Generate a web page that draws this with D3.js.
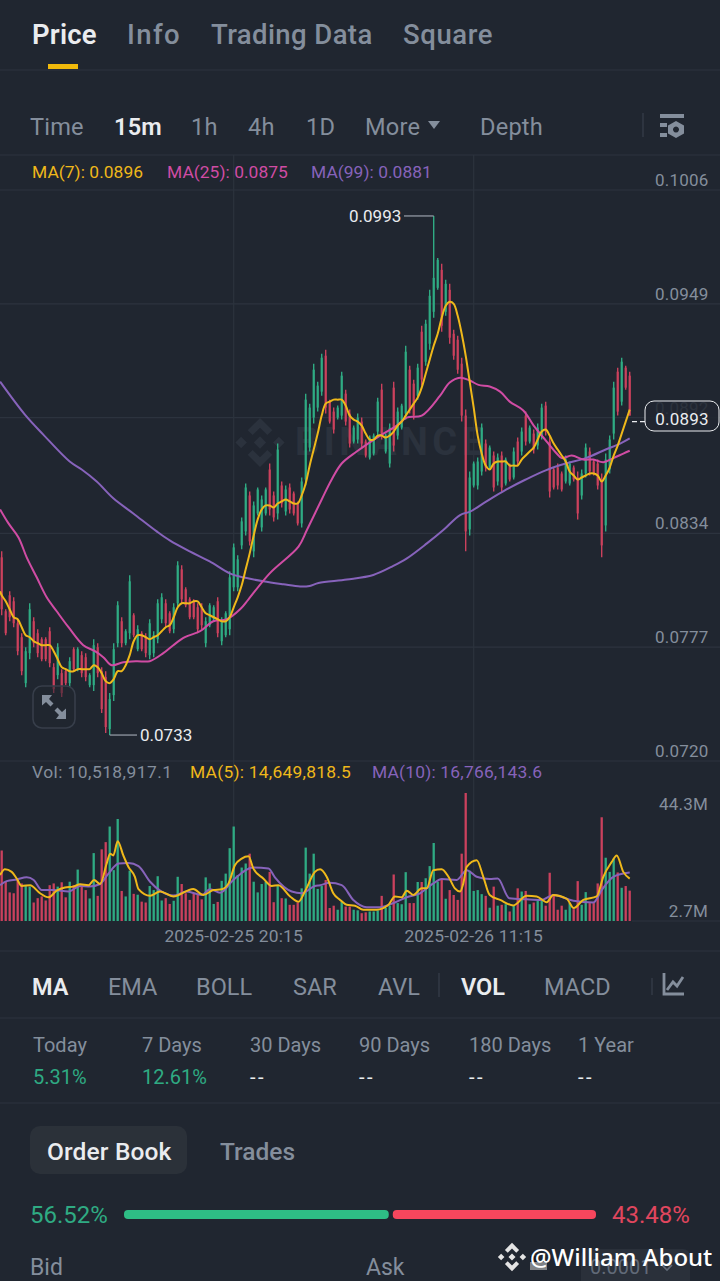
<!DOCTYPE html>
<html><head><meta charset="utf-8">
<script src="https://cdn.jsdelivr.net/npm/d3@7/dist/d3.min.js"></script>
<style>html,body{margin:0;padding:0;background:#202630;overflow:hidden}svg{display:block}text{font-family:Roboto,"Noto Sans",sans-serif}</style>
</head><body><svg id="c" width="720" height="1281"></svg>
<script>
// ---- data: prices in units of 0.0001, volumes in millions ----
const highs=[825,796,805,802,791,784,777,799,792,786,782,782,787,769,779,766,766,772,777,777,775,774,764,781,779,767,765,754,779,800,792,786,813,794,788,785,784,791,785,801,804,801,795,799,820,818,807,802,801,799,799,792,799,798,802,792,795,815,829,823,842,859,855,850,857,853,857,869,855,879,860,858,859,855,850,862,904,899,919,910,924,926,901,897,898,915,906,896,888,894,892,881,883,884,902,909,884,889,910,897,899,928,918,911,919,938,941,956,993,972,969,961,959,936,933,922,896,865,870,872,889,881,878,875,874,875,872,869,877,882,887,895,888,886,889,899,900,883,867,869,865,873,870,868,865,866,879,877,871,871,864,874,883,910,917,922,918,915];
const lows=[793,783,790,787,773,763,757,771,777,772,770,770,767,754,761,752,758,757,765,765,762,760,757,755,762,744,734,733,750,777,777,778,781,782,775,775,772,771,772,779,789,787,784,784,797,799,797,791,791,784,786,777,787,790,782,778,782,783,805,805,826,833,828,822,843,835,843,843,840,841,847,843,844,843,838,837,858,875,889,895,903,894,889,884,891,891,888,877,879,879,877,872,871,873,883,881,874,867,875,881,886,891,894,891,901,908,918,926,942,956,935,943,929,921,914,890,825,833,857,856,863,865,866,855,858,855,858,860,861,868,873,878,879,874,876,881,883,852,856,856,855,859,858,860,841,851,862,863,863,856,822,835,864,881,893,898,906,893];
const opens=[822,795,803,800,789,782,759,774,790,784,781,781,785,767,763,764,765,759,776,766,773,772,758,758,777,765,762,736,753,779,790,779,784,793,776,784,782,773,774,781,791,799,794,786,799,816,806,801,800,797,797,779,788,791,800,780,783,786,807,807,828,835,853,825,844,837,844,866,853,844,858,845,857,854,849,839,861,877,892,897,905,923,900,895,892,893,904,894,880,881,890,880,872,874,885,906,875,869,907,883,887,894,916,909,903,935,920,929,945,957,966,945,956,934,931,919,893,836,858,858,865,879,867,873,860,873,859,868,862,880,875,893,880,884,878,883,898,880,866,867,864,860,859,867,862,853,864,875,870,869,861,838,866,884,915,900,917,913];
const closes=[796,784,792,789,775,765,775,796,779,774,771,771,769,756,777,754,759,770,766,776,764,762,763,778,764,746,737,751,776,798,779,785,810,783,786,776,774,789,783,799,802,789,785,797,818,801,798,792,792,786,788,790,798,797,784,790,794,812,827,821,840,857,830,848,856,851,856,846,842,876,849,856,846,844,839,860,901,897,916,908,922,897,890,886,897,913,890,879,887,892,879,873,882,883,900,884,883,887,878,895,898,925,896,893,917,911,939,953,962,971,938,959,932,923,916,893,835,862,869,870,887,867,877,857,872,857,871,861,875,870,885,880,887,876,887,897,885,855,857,858,856,871,869,861,844,864,877,865,864,858,828,871,881,907,895,920,907,893];
const volumes=[24.4,13.6,9.9,9.6,14.2,13.0,12.1,11.9,6.4,7.9,8.5,7.1,12.4,13.0,11.9,13.4,8.2,13.6,12.4,17.8,11.9,10.7,7.8,23.5,8.7,24.8,27.3,32.7,17.6,35.3,10.4,8.5,17.4,9.4,9.1,6.7,6.4,12.1,10.7,15.5,7.1,7.9,5.9,7.0,15.3,12.8,9.6,7.3,9.6,9.0,7.5,15.1,13.0,5.9,6.6,13.9,16.4,25.2,32.7,15.9,18.5,19.9,23.3,13.6,9.9,12.8,13.6,17.0,6.5,12.1,7.9,7.8,5.6,5.6,6.4,11.3,25.4,16.4,23.3,11.1,12.1,14.2,4.5,5.3,3.9,6.7,5.0,5.0,3.9,3.7,2.7,3.0,3.3,3.3,3.7,8.7,4.5,5.3,16.1,6.2,5.8,16.9,6.2,6.2,13.5,13.5,14.8,19.0,27.0,13.6,14.2,7.7,10.7,9.0,7.3,23.3,44.3,17.4,10.4,10.7,9.3,8.7,4.6,11.9,5.3,5.6,5.8,3.3,5.3,11.3,10.2,10.4,5.8,6.4,7.1,7.1,5.3,16.7,9.3,3.9,5.3,3.9,6.2,4.1,13.8,5.6,10.0,6.2,6.2,13.0,35.9,21.9,17.0,21.6,16.8,11.5,12.1,10.5];
const ma7=[803,800,796,792,791,787,783,782,780,779,778,778,778,775,771,767,766,765,765,766,766,766,766,768,767,764,760,759,761,765,765,768,773,780,783,783,782,781,782,783,785,787,788,792,797,799,799,799,800,800,797,794,793,792,791,790,790,792,797,802,808,816,824,833,841,846,848,848,847,849,850,851,850,849,849,853,859,868,876,884,893,899,900,901,901,901,898,893,891,890,888,884,881,881,883,883,882,883,885,888,890,893,896,899,902,907,914,921,928,934,942,948,950,949,943,934,923,910,897,883,874,868,866,869,870,870,870,868,868,868,871,873,875,877,881,885,886,883,879,876,873,870,865,863,861,862,863,864,864,863,860,863,867,873,878,884,890,896];
const ma7Start=805;
const ma25Idx=[-0.4,1.7,4.2,6.25,8.75,11.25,13.75,16.7,20.4,23.3,25.4,27.5,30.4,33.75,37,40.4,42.9,45.8,49.6,52.9,56.25,59.6,61.7,67,74.2,76.3,80,82.5,85,88.75,94.6,98.75,101.25,105,109.6,112,114.6,117,119.2,122,124.6,127,130.4,133,136.25,138.75,140,142.5,145.4,147.9,150.4,152.9,155.4,157];
const ma25Val=[846,839,832,822,812,802,795,787,778,775,772,768,769.5,770,770,774,778,782,785,790,791,796,801,814,827.4,835.7,851,861,869,875,883,888,892,893,903,909.6,912,910.6,908.4,907.6,905,900,895.6,888,880,874,871.7,873,871,871,869.6,871.7,874,875.4];
const ma99Idx=[-0.4,5.8,10.4,17,20,23.75,27.9,32.9,38.75,42,47,52,57,60.4,65.4,70.4,74.6,77,79.2,86.3,92.9,97.9,101.3,106.3,110.4,114.6,117.1,120.4,126.2,131,136,141,146,151,154.6,157];
const ma99Val=[910,893.5,883.5,870,866,860,851.6,844,835,830.5,825,820,814,812,810,808.5,807.4,807.7,809.2,810.9,813.2,817.7,821.5,829,835.7,843.2,844.9,849,856,861,865.6,869,871.7,876,879,881.6];
const volMa5Idx=[-0.4,0.8,2.5,3.75,5,7.1,9.6,11.7,13.75,15.8,17.9,19.6,21.7,23.1,24.6,26.25,27.1,27.9,29,30.4,31.7,33.3,34.2,37.1,39.6,42.9,47.9,50.4,52.9,55,56.7,58.3,60,61.7,62.9,65.4,67.5,69.2,72.1,74.2,75.8,78.3,79.6,81.25,82.9,84.6,86.25,88.3,90.4,93.75,96.7,98.3,100,101.25,102.9,105,106.25,107.9,110,111.7,113.3,114.6,115.4,116.25,118.75,120.4,122,124.6,127.9,131.25,133.75,136.25,137.9,141.25,143,145.4,148.75,150.4,152.5,153.75,155.4,157];
const volMa5Val=[15.9,17.9,17.0,14.7,12.1,12.4,9.6,8.2,10.5,11.6,11.9,12.7,12.4,14.2,12.8,19.9,23.3,22.7,27.6,22.7,18.7,15.3,11.0,8.7,10.2,8.5,11.1,9.0,10.7,11.0,13.0,19.3,21.6,22.4,18.2,14.7,12.1,12.4,8.5,6.7,10.2,17.0,17.9,15.3,9.6,7.3,5.6,5.3,3.9,3.9,5.6,8.5,8.2,10.5,9.0,11.3,11.3,17.6,17.9,15.3,11.3,10.2,13.0,18.7,21.0,15.3,9.0,7.3,5.4,8.7,8.5,6.5,9.0,7.7,4.5,7.3,8.5,15.3,20.4,22.7,17.0,14.65];
const volMa10Idx=[-0.4,1.25,3.75,6.25,8,10,13,16.7,19.6,22,24.6,26.7,29.2,31.7,34.2,37.1,39.6,42.9,46.25,50,52.1,54.6,57.9,62.9,66.7,68.3,72.5,75,78.3,79.6,82,85,87.9,91.25,94.6,98.3,101.25,104.6,107.9,110,113.75,116.25,118.75,122,124,126.9,131.25,135,137.9,142.9,147.9,150,152.9,157];
const volMa10Val=[12.4,13.8,14.4,15.1,14.2,10.7,10.7,10.2,12.1,11.9,12.8,16.4,19.9,20.1,19.0,13.6,10.5,8.8,10.2,9.0,11.0,9.8,14.2,18.5,18.2,15.1,10.2,9.6,12.1,12.4,13.2,12.4,7.3,4.8,4.8,6.4,8.2,9.6,13.0,14.5,14.2,17.6,15.3,14.5,14.7,7.9,7.5,7.3,9.0,7.0,6.4,10.7,15.3,16.77];
const priceTicks=[1006,949,892,834,777,720];
const volTickLabels=["44.3M","2.7M"];
const dateTicks=["2025-02-25 20:15","2025-02-26 11:15"];
const dateTickIdx=[58,118];
const tabs=["Price","Info","Trading Data","Square"];
const intervals=["Time","15m","1h","4h","1D","More","Depth"];
const indicators=["MA","EMA","BOLL","SAR","AVL","VOL","MACD"];
const periods=["Today","7 Days","30 Days","90 Days","180 Days","1 Year"];
const periodVals=["5.31%","12.61%","--","--","--","--"];
const bidPct=56.52, askPct=43.48;

// ---- layout ----
const W=720,BG="#202630",GRID="#2c333e",GREY="#848e9c",WHITE="#eaecef",GOLD="#f0b90b",
 UP="#2fab83",DOWN="#cb415d",YEL="#efb81a",PINK="#d04ca4",PUR="#8763bb";
const svg=d3.select("#c");
svg.append("rect").attr("width",W).attr("height",1281).attr("fill",BG);
function T(s,x,y,size,fill,o={}){return svg.append("text").attr("x",x).attr("y",y).attr("font-size",size).attr("fill",fill)
 .attr("font-weight",o.w||400).attr("text-anchor",o.a||"start").attr("letter-spacing",o.ls||0).attr("opacity",o.op==null?1:o.op).text(s);}
function HL(y,x0=0,x1=W,c=GRID){svg.append("line").attr("x1",x0).attr("x2",x1).attr("y1",y).attr("y2",y).attr("stroke",c).attr("stroke-width",1.2);}
function VL(x,y0,y1,c=GRID){svg.append("line").attr("x1",x).attr("x2",x).attr("y1",y0).attr("y2",y1).attr("stroke",c).attr("stroke-width",1.2);}
function logo(cx,cy,s,fill){const g=svg.append("g").attr("transform",`translate(${cx},${cy}) scale(${s})`).attr("fill",fill);
 g.append("path").attr("d","M-6,-6 L0,-12 L6,-6 L3.6,-3.6 L0,-7.2 L-3.6,-3.6Z M-6,6 L0,12 L6,6 L3.6,3.6 L0,7.2 L-3.6,3.6Z M-12,0 L-9.2,-2.8 L-6.4,0 L-9.2,2.8Z M12,0 L9.2,-2.8 L6.4,0 L9.2,2.8Z M0,-3 L3,0 L0,3 L-3,0Z");}

// header
const tabX=[32,127,211,403], tabLs=[0.2,1.4,0.4,0.6];
tabs.forEach((t,i)=>T(t,tabX[i],44,i==0?27.5:27.5,i==0?WHITE:GREY,{w:i==0?600:500,ls:tabLs[i]}));
svg.append("rect").attr("x",48).attr("y",64).attr("width",30).attr("height",5).attr("fill",GOLD);
HL(70);
const intX=[30,114,191,248,306,365,480];
intervals.forEach((t,i)=>T(t,intX[i],135,i==1?23.5:23.6,i==1?WHITE:GREY,{w:i==1?600:400,ls:.2}));
svg.append("path").attr("d","M428,121 L440,121 L434,129Z").attr("fill",GREY);
VL(643,113,137,"#383f4b");
svg.append("g").attr("fill",GREY).call(g=>{
 g.append("rect").attr("x",660).attr("y",114).attr("width",24).attr("height",4);
 g.append("rect").attr("x",660).attr("y",123).attr("width",7).attr("height",4);
 g.append("rect").attr("x",660).attr("y",133).attr("width",7).attr("height",4);
 g.append("path").attr("fill-rule","evenodd").attr("d","M676,121 L684,125.5 L684,133.5 L676,138 L668,133.5 L668,125.5Z M676,126.5 a3,3 0 1 0 0.01,0Z");
});
HL(155);
// grid
const x=d3.scaleLinear().domain([0,157]).range([1.7,629.7]);
const y=d3.scaleLinear().domain([720,1006]).range([761,190]);
const yv=d3.scaleLinear().domain([0,44.3]).range([921,793]);
priceTicks.forEach(t=>HL(y(t)));
dateTickIdx.forEach(i=>{VL(x(i),155,761);VL(x(i),761,921);});
HL(921,632,720);

// watermark
logo(260,442.5,2.05,"#2b323d");
T("BINANCE",295,455,38,"#2b323d",{w:700,ls:4.5});

// legend
T("MA(7): 0.0896",32,178,17.4,YEL,{ls:.05});
T("MA(25): 0.0875",167,178,17.4,PINK,{ls:.05});
T("MA(99): 0.0881",311,178,17.4,PUR,{ls:.05});
// price axis labels
priceTicks.forEach(t=>T((t/1e4).toFixed(4),655,y(t)-4,17,GREY,{ls:.2}));

// candles
const n=highs.length, cs=d3.range(n);
const col=i=>closes[i]>=opens[i]?UP:DOWN;
const cg=svg.append("g");
cg.selectAll("line").data(cs).join("line").attr("x1",i=>x(i)).attr("x2",i=>x(i)).attr("y1",i=>y(highs[i])).attr("y2",i=>y(lows[i])).attr("stroke",col).attr("stroke-width",1.4);
cg.selectAll("rect").data(cs).join("rect").attr("x",i=>x(i)-1.1).attr("width",2.2).attr("y",i=>y(Math.max(opens[i],closes[i]))).attr("height",i=>Math.max(1,Math.abs(y(opens[i])-y(closes[i])))).attr("fill",col);

// MA lines
const priceLine=d3.line().x(d=>x(d[0])).y(d=>y(d[1])).curve(d3.curveCatmullRom.alpha(.5));
const zip=(a,b)=>a.map((v,i)=>[v,b[i]]);
const drawPL=(data,c)=>svg.append("path").attr("d",priceLine(data)).attr("fill","none").attr("stroke",c).attr("stroke-width",2);
drawPL(zip(ma99Idx,ma99Val),PUR);
drawPL(zip(ma25Idx,ma25Val),PINK);
drawPL([[-0.4,ma7Start]].concat(ma7.map((v,i)=>[i,v])),YEL);

// extremes
HL(y(993),404,x(108),"#9aa1ac");
T("0.0993",349,222,17,WHITE);
HL(y(733),x(27),137,"#9aa1ac");
T("0.0733",140,741,17,WHITE);

// last price
svg.append("line").attr("x1",632).attr("x2",645).attr("y1",y(890)).attr("y2",y(890)).attr("stroke",WHITE).attr("stroke-width",1.2).attr("stroke-dasharray","5,3");
svg.append("rect").attr("x",645).attr("y",401).attr("width",74).attr("height",30).attr("rx",9).attr("fill",BG).attr("fill-opacity",.88).attr("stroke",WHITE).attr("stroke-width",1);
T("0.0893",682,425,17,WHITE,{a:"middle",ls:.2});

// expand button
svg.append("rect").attr("x",33).attr("y",686).attr("width",42).attr("height",42).attr("rx",9).attr("fill",BG).attr("fill-opacity",.55).attr("stroke","#373e4a").attr("stroke-width",1.6);
svg.append("path").attr("fill",GREY).attr("d","M42,695 L52,695 L49,699 L53.5,703.5 L50.5,706.5 L46,702 L42,705.5Z M66,719 L56,719 L59,715 L54.5,710.5 L57.5,707.5 L62,712 L66,708.5Z");

// volume
T("Vol: 10,518,917.1",32,778,17.4,GREY,{ls:.45});
T("MA(5): 14,649,818.5",190,778,17.4,YEL,{ls:.25});
T("MA(10): 16,766,143.6",372,778,17.4,PUR,{ls:.2});
svg.append("g").selectAll("rect").data(cs).join("rect").attr("x",i=>x(i)-1.15).attr("width",2.3).attr("y",i=>yv(volumes[i])).attr("height",i=>921-yv(volumes[i])).attr("fill",col);
const volLine=d3.line().x(d=>x(d[0])).y(d=>yv(d[1])).curve(d3.curveMonotoneX);
svg.append("path").attr("d",volLine(zip(volMa10Idx,volMa10Val))).attr("fill","none").attr("stroke",PUR).attr("stroke-width",2);
svg.append("path").attr("d",volLine(zip(volMa5Idx,volMa5Val))).attr("fill","none").attr("stroke",YEL).attr("stroke-width",2);
volTickLabels.forEach((t,i)=>T(t,708,i==0?810:917,17,GREY,{a:"end",ls:.2}));
dateTicks.forEach((t,i)=>T(t,x(dateTickIdx[i]),942,17.4,GREY,{a:"middle",ls:.2}));
HL(951);

// indicator row
const indX=[32,108,196,293,378,461,544];
indicators.forEach((t,i)=>T(t,indX[i],995,23.5,(i==0||i==5)?WHITE:GREY,{w:(i==0||i==5)?600:400}));
VL(439,973,997,"#383f4b");VL(652,978,995,"#383f4b");
svg.append("path").attr("fill","none").attr("stroke",GREY).attr("stroke-width",2.8).attr("d","M664,973 L664,994 L684,994 M667,990 L673,982 L677,986 L683,977");
HL(1018);

// periods
const perX=[33,142,250,359,469,578];
periods.forEach((t,i)=>{T(t,perX[i],1052,20,GREY);T(periodVals[i],perX[i],1084,20,i<2?UP:WHITE,{ls:i<2?0:2.5});});
HL(1103);

// order book
svg.append("rect").attr("x",30).attr("y",1126).attr("width",157).attr("height",48).attr("rx",10).attr("fill","#2b3139");
T("Order Book",47,1160,24.5,WHITE,{w:500,ls:.15});
T("Trades",220,1160,24.5,GREY,{w:500});
const bx=d3.scaleLinear().domain([0,100]).range([124,596]);
T(bidPct.toFixed(2)+"%",30,1223,24,UP);
T(askPct.toFixed(2)+"%",612,1223,24,"#e0465e");
svg.append("rect").attr("x",bx(0)).attr("y",1210).attr("width",bx(bidPct)-bx(0)-2).attr("height",9).attr("rx",4).attr("fill","#2ebd85");
svg.append("rect").attr("x",bx(bidPct)+2).attr("y",1210).attr("width",bx(100)-bx(bidPct)-2).attr("height",9).attr("rx",4).attr("fill","#f6465d");
T("Bid",30,1275,23,GREY);
T("Ask",366,1275,23,GREY);
svg.append("rect").attr("x",581).attr("y",1249).attr("width",109).attr("height",40).attr("rx",7).attr("fill","#2a303a");
T("0.0001",590,1274,20,"#616a78");
svg.append("path").attr("d","M662,1265 L667,1270 L672,1265").attr("fill","none").attr("stroke","#616a78").attr("stroke-width",1.6);
// overlay credit
logo(512,1257,1.18,"#e4e4e4");
svg.append("rect").attr("x",530).attr("y",1262).attr("width",17).attr("height",8).attr("fill","#cfcfcf").attr("opacity",.55);
svg.append("rect").attr("x",530).attr("y",1256).attr("width",9).attr("height",6).attr("fill","#16181d");
svg.append("text").attr("x",530).attr("y",1266).attr("font-size",24).attr("fill","#fff").attr("font-weight",500).style("font-family","'Noto Sans',sans-serif").text("@William About");
</script></body></html>
